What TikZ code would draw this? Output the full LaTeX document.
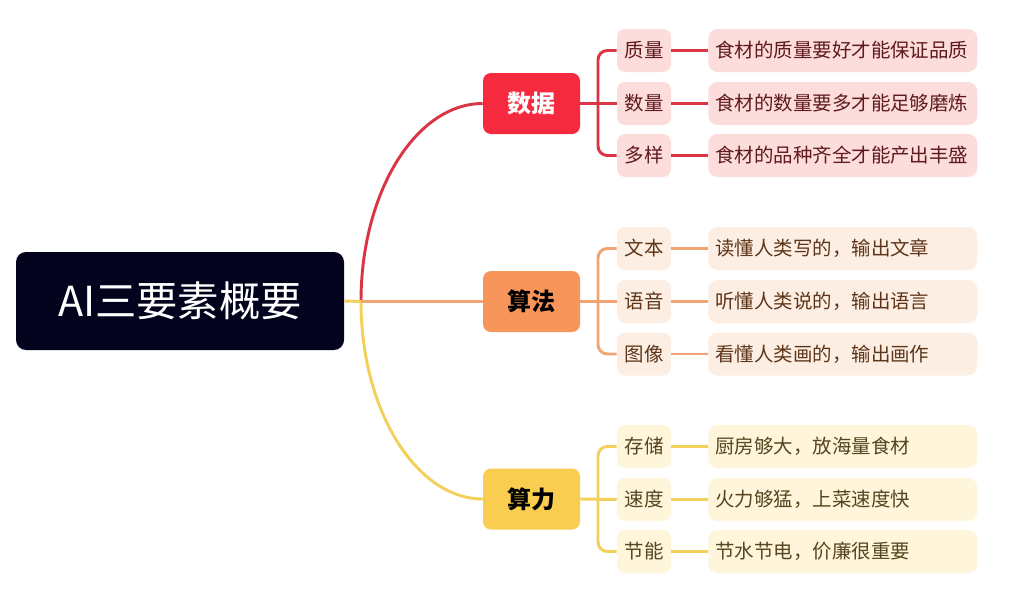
\documentclass[tikz,border=0pt]{standalone}
\usepackage{fontspec}
\setmainfont{Noto Sans CJK SC}
\definecolor{rootc}{HTML}{03031E}
\definecolor{redc}{HTML}{F52A3E}
\definecolor{orac}{HTML}{F7955A}
\definecolor{yelc}{HTML}{F9CD4F}
\definecolor{redl}{HTML}{D93545}
\definecolor{oral}{HTML}{F2A572}
\definecolor{yell}{HTML}{F3D05A}
\definecolor{redf}{HTML}{FDDCDC}
\definecolor{oraf}{HTML}{FDEEE4}
\definecolor{yelf}{HTML}{FEF5DA}
\definecolor{redt}{HTML}{5E1A1C}
\definecolor{orat}{HTML}{5E3518}
\definecolor{yelt}{HTML}{564520}
\begin{document}
\begin{tikzpicture}[x=0.75pt,y=-0.75pt,
  rootbox/.style={fill=rootc,rounded corners=7.5pt,minimum width=246pt,minimum height=73.5pt,text=white,font=\fontsize{31}{36}\selectfont,inner sep=0pt},
  branchbox/.style={rounded corners=6pt,minimum width=72.75pt,minimum height=45.75pt,font=\fontsize{18}{22}\selectfont\bfseries,inner sep=0pt},
  leafbox/.style={rounded corners=6pt,minimum width=40.5pt,minimum height=32.25pt,font=\fontsize{14.6}{18}\selectfont,inner sep=0pt},
  textbox/.style={rounded corners=7pt,minimum height=32.25pt,text width=191.25pt,inner xsep=5.25pt,inner ysep=0pt,align=left,anchor=west,font=\fontsize{14.6}{18}\selectfont},
  conn/.style={line width=2.2pt},
  bracket/.style={line width=2.2pt,rounded corners=7pt}]
\useasboundingbox (0,0) rectangle (1009,593);
\fill[white] (0,0) rectangle (1009,593);

\node[rootbox] (root) at (180,301) {AI三要素概要};
\node[branchbox,fill=redc,text=white] (b1) at (531.5,103.5) {数据};
\node[branchbox,fill=orac,text=black] (b2) at (531.5,301.5) {算法};
\node[branchbox,fill=yelc,text=black] (b3) at (531.5,499) {算力};

% leaves red
\node[leafbox,fill=redf,text=redt] (l11) at (644,50.5) {质量};
\node[leafbox,fill=redf,text=redt] (l12) at (644,103.5) {数量};
\node[leafbox,fill=redf,text=redt] (l13) at (644,155.5) {多样};
\node[textbox,fill=redf,text=redt] (t11) at (708,50.5) {食材的质量要好才能保证品质};
\node[textbox,fill=redf,text=redt] (t12) at (708,103.5) {食材的数量要多才能足够磨炼};
\node[textbox,fill=redf,text=redt] (t13) at (708,155.5) {食材的品种齐全才能产出丰盛};
% leaves orange
\node[leafbox,fill=oraf,text=orat] (l21) at (644,248.5) {文本};
\node[leafbox,fill=oraf,text=orat] (l22) at (644,301.5) {语音};
\node[leafbox,fill=oraf,text=orat] (l23) at (644,354) {图像};
\node[textbox,fill=oraf,text=orat] (t21) at (708,248.5) {读懂人类写的，输出文章};
\node[textbox,fill=oraf,text=orat] (t22) at (708,301.5) {听懂人类说的，输出语言};
\node[textbox,fill=oraf,text=orat] (t23) at (708,354) {看懂人类画的，输出画作};
% leaves yellow
\node[leafbox,fill=yelf,text=yelt] (l31) at (644,446.5) {存储};
\node[leafbox,fill=yelf,text=yelt] (l32) at (644,499.5) {速度};
\node[leafbox,fill=yelf,text=yelt] (l33) at (644,551.5) {节能};
\node[textbox,fill=yelf,text=yelt] (t31) at (708,446.5) {厨房够大，放海量食材};
\node[textbox,fill=yelf,text=yelt] (t32) at (708,499.5) {火力够猛，上菜速度快};
\node[textbox,fill=yelf,text=yelt] (t33) at (708,551.5) {节水节电，价廉很重要};

% main connectors (quarter-ellipse curves)
\coordinate (j) at (361,301.5);
\draw[conn,redl] (j) .. controls (361,192) and (416,103.5) .. (b1.west);
\draw[conn,yell] (j) .. controls (361,410) and (416,499) .. (b3.west);
\draw[conn,yell] (root.east) -- (j);
\draw[conn,oral] (j) -- (b2.west);

% brackets
\coordinate (k1) at (598,103.5);
\coordinate (k2) at (598,301.5);
\coordinate (k3) at (598,499.5);
\draw[conn,redl] (b1.east) -- (l12.west);
\draw[bracket,redl] (l11.west) -| (k1) |- (l13.west);
\draw[conn,oral] (b2.east) -- (l22.west);
\draw[bracket,oral] (l21.west) -| (k2) |- (l23.west);
\draw[conn,yell] (b3.east) -- (l32.west);
\draw[bracket,yell] (l31.west) -| (k3) |- (l33.west);

% leaf to text
\foreach \a/\c in {11/redl,12/redl,13/redl,21/oral,22/oral,23/oral,31/yell,32/yell,33/yell}
  \draw[conn,\c] (l\a.east) -- (t\a.west);
\end{tikzpicture}
\end{document}
